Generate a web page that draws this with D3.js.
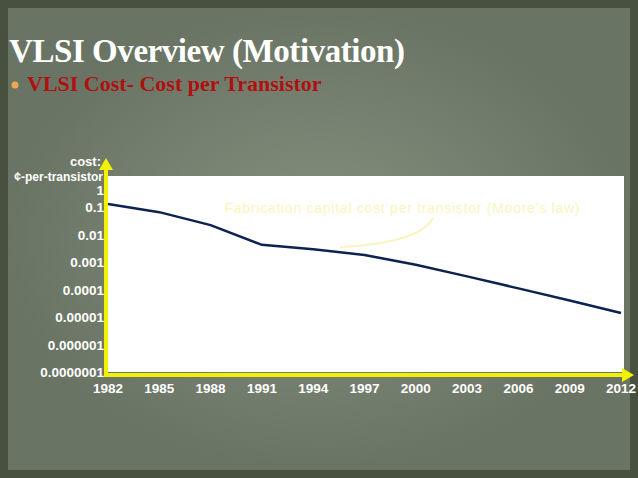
<!DOCTYPE html><html><head><meta charset="utf-8">
<script src="https://cdn.jsdelivr.net/npm/d3@7"></script>
<style>body{margin:0;background:#4a5244}</style></head><body><svg id="c" width="638" height="478"></svg>
<script>
const years=[1982,1985,1988,1991,1994,1997,2000,2003,2006,2009,2012];
const costs=[0.15,0.065,0.022,0.0042,0.0029,0.0018,0.0008,0.0003,0.00011,0.00004,0.000014];
const yTicks=[1,0.1,0.01,0.001,0.0001,0.00001,0.000001,0.0000001];
const yTickLabels=["1","0.1","0.01","0.001","0.0001","0.00001","0.000001","0.0000001"];
const svg=d3.select("#c");
const defs=svg.append("defs");
const g=defs.append("radialGradient").attr("id","bg");
g.append("stop").attr("offset","0%").attr("stop-color","#86907f");
g.append("stop").attr("offset","100%").attr("stop-color","#6a7464");
svg.append("rect").attr("width",638).attr("height",478).attr("fill","#48503f");
svg.append("rect").attr("x",8).attr("y",8).attr("width",622).attr("height",462).attr("fill","url(#bg)");
svg.append("text").attr("x",9).attr("y",62).attr("fill","#fff").attr("font-family","Liberation Serif, serif").attr("font-weight","bold").attr("font-size",33).attr("textLength",396).text("VLSI Overview (Motivation)");
svg.append("circle").attr("cx",15).attr("cy",85).attr("r",3.5).attr("fill","#f0a850");
svg.append("text").attr("x",27).attr("y",91).attr("fill","#b01010").attr("font-weight","bold").attr("font-family","Liberation Serif, serif").attr("font-size",22).text("VLSI Cost- Cost per Transistor");
const x=d3.scaleLinear().domain([1982,2012]).range([108,621]);
const y=d3.scaleLog().domain([1e-7,0.1,1]).range([372,207,190]);
svg.append("rect").attr("x",108).attr("y",176).attr("width",516).attr("height",196).attr("fill","#fff");
const yel="#f2f200";
svg.append("line").attr("x1",106).attr("x2",106).attr("y1",377).attr("y2",168).attr("stroke",yel).attr("stroke-width",4);
svg.append("path").attr("d","M99,170 L106,158 L113,170Z").attr("fill",yel);
svg.append("line").attr("x1",104).attr("x2",624).attr("y1",375).attr("y2",375).attr("stroke",yel).attr("stroke-width",4);
svg.append("path").attr("d","M622,368 L634,375 L622,382Z").attr("fill",yel);
const lf="Liberation Sans, Arial, sans-serif";
svg.selectAll(".yt").data(yTicks).enter().append("text").attr("x",104).attr("y",d=>y(d)+5).attr("text-anchor","end")
 .attr("fill","#fff").attr("font-family",lf).attr("font-weight","bold").attr("font-size",13.5).text((d,i)=>yTickLabels[i]);
svg.selectAll(".xt").data(years).enter().append("text").attr("x",d=>x(d)).attr("y",393).attr("text-anchor","middle")
 .attr("fill","#fff").attr("font-family",lf).attr("font-weight","bold").attr("font-size",13.5).text(d=>d);
svg.append("text").attr("x",101).attr("y",166).attr("text-anchor","end").attr("fill","#fff").attr("font-family",lf).attr("font-weight","bold").attr("font-size",13).text("cost:");
svg.append("text").attr("x",103).attr("y",181).attr("text-anchor","end").attr("fill","#fff").attr("font-family",lf).attr("font-weight","bold").attr("font-size",12).text("¢-per-transistor");
svg.append("path").datum(years.map((d,i)=>[d,costs[i]])).attr("fill","none").attr("stroke","#0c2250").attr("stroke-width",2.5)
 .attr("d",d3.line().x(d=>x(d[0])).y(d=>y(d[1])));
svg.append("text").attr("x",402).attr("y",213).attr("text-anchor","middle").attr("fill","#faf4c0").attr("font-family",lf).attr("font-size",14).attr("textLength",355).text("Fabrication capital cost per transistor (Moore’s law)");
svg.append("path").attr("d","M433,218 Q420,243 340,247").attr("fill","none").attr("stroke","#faf4c0").attr("stroke-width",2);
</script></body></html>
